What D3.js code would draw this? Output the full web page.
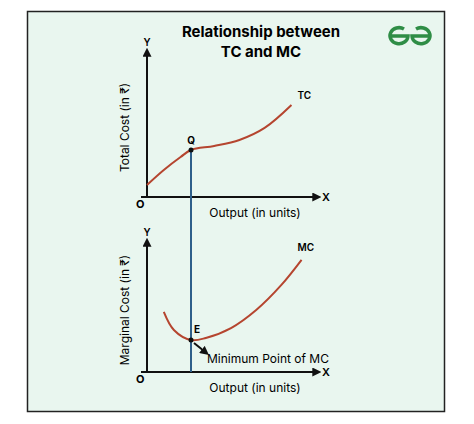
<!DOCTYPE html>
<html><head><meta charset="utf-8">
<script src="https://cdn.jsdelivr.net/npm/d3@7"></script>
<style>body{margin:0;background:#fff}text{font-family:Inter,"DejaVu Sans",sans-serif}</style>
</head><body><svg id="c" width="474" height="424"></svg>
<script>
// data (output units, cost units)
const tcX = [0, 1, 2, 2.62, 4, 5.5, 7, 8.6];
const tcY = [0.82, 1.84, 2.72, 3.2, 3.47, 3.88, 4.7, 6.26];
const mcX = [1, 1.6, 2.62, 3.5, 5, 6.5, 8, 9.2];
const mcY = [4.55, 3.18, 2.42, 2.58, 3.33, 4.7, 6.6, 8.5];
const qX = 2.62;

const svg = d3.select("#c");
const red = "#b5452f", blue = "#2e5f8a", ink = "#111";
svg.append("rect").attr("x", 27.5).attr("y", 11.5).attr("width", 417).attr("height", 400)
  .attr("fill", "#e9f6ef").attr("stroke", "#222").attr("stroke-width", 1.5);

svg.append("text").attr("x", 261).attr("y", 37).attr("text-anchor", "middle")
  .attr("font-size", 15).attr("font-weight", 700).text("Relationship between");
svg.append("text").attr("x", 261).attr("y", 57).attr("text-anchor", "middle")
  .attr("font-size", 15).attr("font-weight", 700).text("TC and MC");
// logo
const lg = svg.append("g").attr("fill", "none").attr("stroke", "#2f8d46").attr("stroke-width", 3.5);
lg.append("path").attr("d", "M391,36 H408 A9,8 0 1 1 404,29");
lg.append("path").attr("d", "M429,36 H412 A9,8 0 1 0 416,29");

svg.append("defs").append("marker").attr("id", "ar").attr("viewBox", "0 0 10 10")
  .attr("refX", 3).attr("refY", 5).attr("markerUnits", "userSpaceOnUse")
  .attr("markerWidth", 9).attr("markerHeight", 9).attr("orient", "auto")
  .append("path").attr("d", "M0,0 L10,5 L0,10 z").attr("fill", ink);

const x = d3.scaleLinear().domain([0, 10]).range([147, 315]);
const yT = d3.scaleLinear().domain([0, 10]).range([197, 50]);
const yM = d3.scaleLinear().domain([0, 10]).range([372, 240]);

function axes(y, ylab) {
  svg.append("line").attr("x1", x(0)).attr("x2", x(0)).attr("y1", y(0)).attr("y2", y(10) + 4)
    .attr("stroke", ink).attr("stroke-width", 2).attr("marker-end", "url(#ar)");
  svg.append("line").attr("x1", x(0) - 6).attr("x2", x(10)).attr("y1", y(0)).attr("y2", y(0))
    .attr("stroke", ink).attr("stroke-width", 2).attr("marker-end", "url(#ar)");
  svg.append("text").attr("x", x(0)).attr("y", y(10) - 4).attr("text-anchor", "middle").attr("font-size", 10).attr("font-weight", 600).text("Y");
  svg.append("text").attr("x", x(10) + 7).attr("y", y(0) + 4).attr("font-size", 11).attr("font-weight", 600).text("X");
  svg.append("text").attr("x", x(0) - 11).attr("y", y(0) + 11).attr("font-size", 11).attr("font-weight", 700).text("O");
  svg.append("text").attr("x", 255).attr("y", y(0) + 20).attr("text-anchor", "middle").attr("font-size", 12).text("Output (in units)");
  svg.append("text").attr("transform", `translate(129,${(y(0) + y(10)) / 2 + 4}) rotate(-90)`)
    .attr("text-anchor", "middle").attr("font-size", 12).text(ylab);
}
axes(yT, "Total Cost (in ₹)");
axes(yM, "Marginal Cost (in ₹)");

const ln = d3.line().curve(d3.curveCatmullRom);
svg.append("line").attr("x1", x(qX)).attr("x2", x(qX)).attr("y1", yT(3.2)).attr("y2", yM(0))
  .attr("stroke", blue).attr("stroke-width", 2);
svg.append("path").attr("d", ln(tcX.map((v, i) => [x(v), yT(tcY[i])]))).attr("fill", "none").attr("stroke", red).attr("stroke-width", 2);
svg.append("path").attr("d", ln(mcX.map((v, i) => [x(v), yM(mcY[i])]))).attr("fill", "none").attr("stroke", red).attr("stroke-width", 2);
svg.append("circle").attr("cx", x(qX)).attr("cy", yT(3.2)).attr("r", 2.5).attr("fill", ink);
svg.append("circle").attr("cx", x(qX)).attr("cy", yM(2.42)).attr("r", 2.5).attr("fill", ink);

svg.append("text").attr("x", x(qX)).attr("y", yT(3.2) - 6).attr("text-anchor", "middle").attr("font-size", 10).attr("font-weight", 700).text("Q");
svg.append("text").attr("x", x(qX) + 3).attr("y", yM(2.42) - 7).attr("font-size", 10).attr("font-weight", 700).text("E");
svg.append("text").attr("x", x(8.6) + 6).attr("y", yT(6.26) - 6).attr("font-size", 10).attr("font-weight", 600).text("TC");
svg.append("text").attr("x", x(9.2) - 4).attr("y", yM(8.5) - 9).attr("font-size", 10).attr("font-weight", 600).text("MC");
svg.append("line").attr("x1", x(qX) + 3).attr("y1", yM(2.42) + 3).attr("x2", x(qX) + 13).attr("y2", yM(2.42) + 11)
  .attr("stroke", ink).attr("stroke-width", 2).attr("marker-end", "url(#ar)");
svg.append("text").attr("x", x(qX) + 16).attr("y", yM(2.42) + 23).attr("font-size", 12).text("Minimum Point of MC");
</script></body></html>
